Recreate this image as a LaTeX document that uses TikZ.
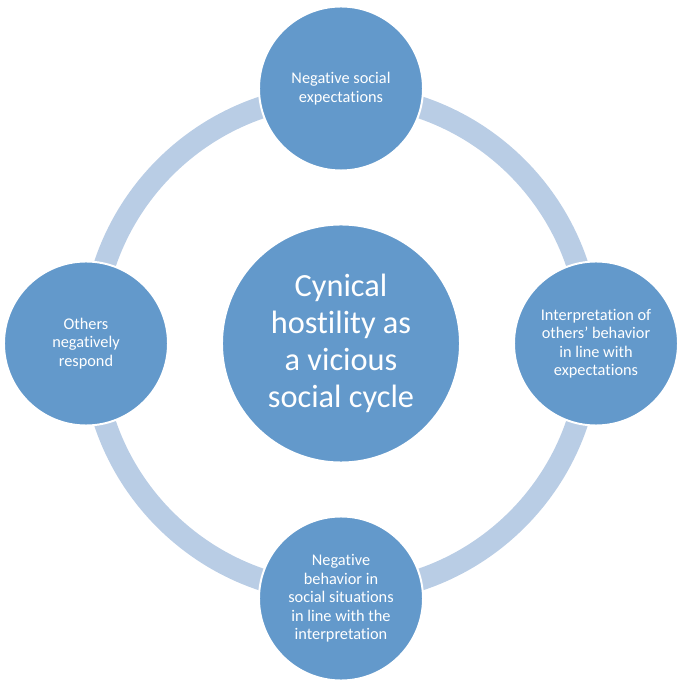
\documentclass[tikz,border=0pt]{standalone}
\usepackage{fontspec}
\setmainfont{Carlito}[Ligatures=NoCommon]
\usepackage{xcolor}
\usetikzlibrary{positioning,backgrounds}
\definecolor{cycleblue}{HTML}{6399CB}
\definecolor{ringblue}{HTML}{B9CDE5}
\tikzset{
    stage/.style={circle, fill=cycleblue, draw=white, line width=1.4pt, minimum size=4.1cm, inner sep=0pt,
        text=white, align=center, font=\fontsize{11.6}{13.1}\selectfont},
    hub/.style={stage, minimum size=5.95cm, font=\fontsize{23}{26.4}\selectfont},
    ring/.style={ringblue, line width=0.55cm}
}

\begin{document}
\begin{tikzpicture}[node distance=6.375cm, on grid]
    \useasboundingbox (-8.525,-8.5375) rectangle (8.6,8.5875);
    % Hub
    \node[hub] (cycle) at (0,0) {Cynical\\hostility as\\a vicious\\social cycle};
    % Stages
    \node[stage, above=of cycle] (expect) {Negative social\\expectations};
    \node[stage, right=of cycle] (interpret) {Interpretation of\\others' behavior\\in line with\\expectations};
    \node[stage, below=of cycle] (behave) {Negative\\behavior in\\social situations\\in line with the\\interpretation};
    \node[stage, left=of cycle] (respond) {Others\\negatively\\respond};
    % Ring behind the stages
    \begin{scope}[on background layer]
        \draw[ring] (cycle.center) circle[radius=6.225cm];
    \end{scope}
\end{tikzpicture}
\end{document}
